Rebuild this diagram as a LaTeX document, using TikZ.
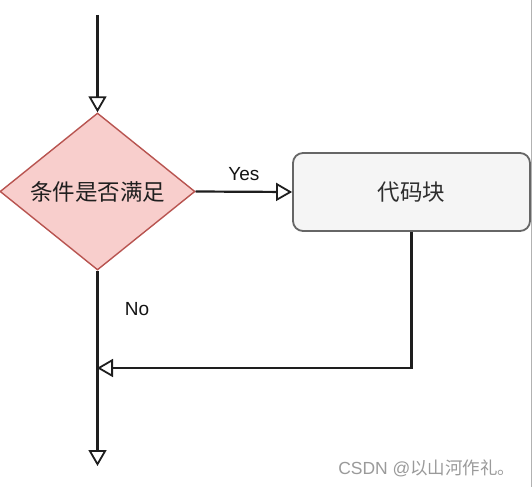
\documentclass[tikz,border=0pt]{standalone}
\usepackage{fontspec}
\setmainfont{Liberation Sans}
\newfontfamily\cjk{Noto Sans CJK SC}
\usetikzlibrary{shapes.geometric,arrows.meta}
\definecolor{dfill}{HTML}{F8CECC}
\definecolor{dline}{HTML}{B85450}
\definecolor{bfill}{HTML}{F5F5F5}
\definecolor{bline}{HTML}{666666}
\definecolor{conn}{HTML}{1E1E1E}
\definecolor{wm}{HTML}{9A9A9A}
\tikzset{
  decision/.style={diamond, draw=dline, fill=dfill, line width=1.4pt, inner sep=0pt,
    minimum width=195pt, minimum height=157pt, font=\cjk\fontsize{22.5}{24}\selectfont, text=black!88},
  codebox/.style={rectangle, rounded corners=10pt, draw=bline, fill=bfill, line width=1.8pt,
    minimum width=237pt, minimum height=78pt, font=\cjk\fontsize{22.5}{24}\selectfont, text=black!82},
  flow/.style={draw=conn, line width=2.2pt,
    -{Triangle[open, length=16pt, width=18pt, line width=1.8pt]}},
  lbl/.style={font=\fontsize{19}{21}\selectfont, text=black!92},
}
\begin{document}
\begin{tikzpicture}[x=1pt,y=-1pt]
\useasboundingbox (0,0) rectangle (532,487);
\node[decision] (cond) at (97.5,191.5) {条件是否满足};
\node[codebox] (code) at (411.5,192) {代码块};
\coordinate (start) at (97.5,15);
\coordinate (join) at (97.5,368);
\coordinate (end) at (97.5,466);
\draw[flow] (start) -- (cond.north);
\draw[flow] (cond.east) -- (code.west) node[lbl, midway, above=7pt] (yes) {Yes};
\draw[flow, shorten >=-0.5pt] (code.south) |- (join);
\draw[draw=conn, line width=2.2pt] (cond.south) -- (97.5,447);
\draw[flow] (97.5,440) -- (end);
\node[lbl] (no) at (137,309) {No};
\node[text=wm, font=\fontsize{17.5}{19}\selectfont, anchor=east] (mark) at (519,468) {CSDN @{\cjk 以山河作礼。}};
\draw[draw=black!30, line width=0.8pt] (531.2,0) -- (531.2,487);
\end{tikzpicture}
\end{document}
